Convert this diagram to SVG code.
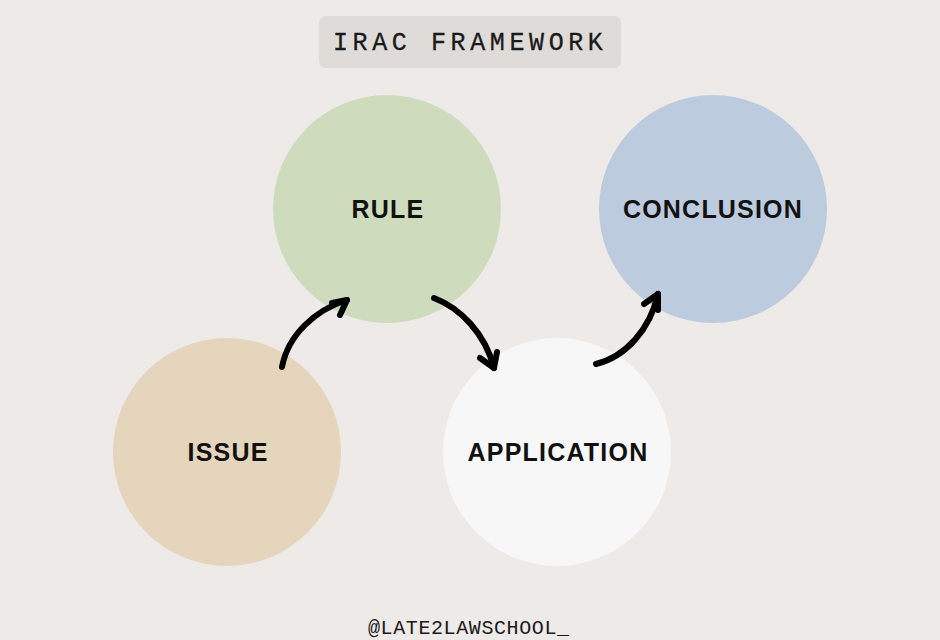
<svg xmlns="http://www.w3.org/2000/svg" width="940" height="640" viewBox="0 0 940 640">
<style>
.lbl{font-family:"Liberation Sans",Arial,sans-serif;font-weight:bold;font-size:25px;letter-spacing:1.2px;fill:#111;text-anchor:middle}
.mono{font-family:"Liberation Mono","Courier New",monospace;fill:#1a1a1a}
.arr{fill:none;stroke:#000;stroke-width:6;stroke-linecap:round;stroke-linejoin:round}
</style>
<rect width="940" height="640" fill="#eeeae7"/>
<g id="title">
<rect x="319" y="16" width="302" height="52" rx="7" fill="#dfdbd8"/>
<text class="mono" x="333" y="50" font-size="25" letter-spacing="4.6" stroke="#1a1a1a" stroke-width="0.3">IRAC FRAMEWORK</text>
</g>
<g id="issue">
<circle cx="227" cy="452" r="114" fill="#e5d5bc"/>
<text class="lbl" x="228" y="461">ISSUE</text>
</g>
<g id="rule">
<circle cx="387" cy="209" r="114" fill="#cedcbd"/>
<text class="lbl" x="388" y="218">RULE</text>
</g>
<g id="application">
<circle cx="557" cy="452" r="114" fill="#f7f7f7"/>
<text class="lbl" x="558" y="461">APPLICATION</text>
</g>
<g id="conclusion">
<circle cx="713" cy="209" r="114" fill="#bccbdd"/>
<text class="lbl" x="713" y="218">CONCLUSION</text>
</g>
<g id="connectors">
<path class="arr" d="M282 367 C288 335 315 310 347 300"/>
<path class="arr" d="M332 303 L347 300 L340 315"/>
<path class="arr" d="M434 298 C460 308 485 333 494 368"/>
<path class="arr" d="M480 358 L494 368 L497 352"/>
<path class="arr" d="M596 364 C625 357 650 330 658 294"/>
<path class="arr" d="M644 304 L658 294 L658 310"/>
</g>
<g id="footer">
<text class="mono" x="368" y="634" font-size="20" letter-spacing="0.6">@LATE2LAWSCHOOL_</text>
</g>
</svg>
